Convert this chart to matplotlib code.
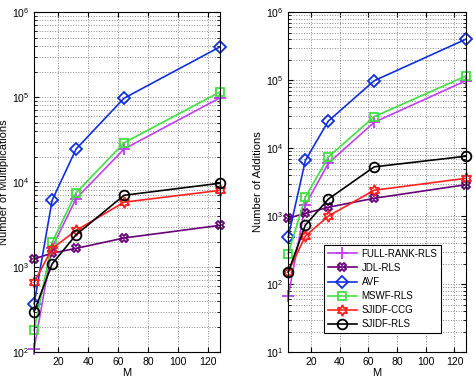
import numpy as np
import matplotlib
matplotlib.use('Agg')
import matplotlib.pyplot as plt
from matplotlib.ticker import LogLocator, NullFormatter

plt.rcParams['font.family'] = ['Liberation Sans', 'DejaVu Sans']
plt.rcParams['mathtext.fontset'] = 'custom'
plt.rcParams['mathtext.rm'] = 'Liberation Sans'

M = [4, 16, 32, 64, 128]

# Number of multiplications (left)
mult_full_rank = [110, 1700, 6400, 24500, 98000]
mult_jdl = [1250, 1460, 1660, 2200, 3100]
mult_avf = [370, 6100, 24500, 97000, 390000]
mult_mswf = [180, 1950, 7500, 29000, 115000]
mult_ccg = [660, 1650, 2700, 5800, 8000]
mult_rls = [300, 1090, 2400, 7000, 9700]

# Number of additions (right)
add_full_rank = [66, 1450, 6000, 24000, 98000]
add_jdl = [930, 1100, 1350, 1830, 2900]
add_avf = [490, 6600, 25000, 98000, 400000]
add_mswf = [280, 1900, 7400, 29000, 115000]
add_ccg = [150, 510, 1000, 2400, 3600]
add_rls = [150, 740, 1780, 5300, 7600]

labels = ['FULL-RANK-RLS', 'JDL-RLS', 'AVF', 'MSWF-RLS', 'SJIDF-CCG', 'SJIDF-RLS']
colors = ['#c040f0', '#660077', '#1030e0', '#40e040', '#ff2020', '#000000']
markers = ['+', 'X', 'D', 's', (6, 1, 0), 'o']
msizes = [8, 6, 6, 6, 8, 7]

fig = plt.figure(figsize=(4.74, 3.79), dpi=100)
ax1 = fig.add_axes([0.072, 0.071, 0.392, 0.897])
ax2 = fig.add_axes([0.608, 0.071, 0.375, 0.897])


def draw(ax, series, ylim, ylabel):
    for ys, lab, c, mk, ms in zip(series, labels, colors, markers, msizes):
        ax.semilogy(M, ys, color=c, marker=mk, markersize=ms, markerfacecolor='none',
                    markeredgecolor=c, markeredgewidth=1.3, linewidth=1.2, label=lab,
                    clip_on=False, zorder=3)
    ax.set_xlim(4, 128)
    ax.set_ylim(*ylim)
    ax.set_xticks([20, 40, 60, 80, 100, 120])
    ax.yaxis.set_major_locator(LogLocator(base=10, numticks=10))
    ax.yaxis.set_minor_locator(LogLocator(base=10, subs=np.arange(2, 10), numticks=20))
    ax.yaxis.set_minor_formatter(NullFormatter())
    ax.grid(True, which='major', linestyle=':', color='#888888', linewidth=0.7)
    ax.grid(True, which='minor', axis='y', linestyle=':', color='#888888', linewidth=0.7)
    ax.tick_params(which='both', direction='in', top=True, right=True, labelsize=7.5)
    ax.tick_params(which='minor', length=2)
    ax.set_xlabel('M', fontsize=8, labelpad=1)
    ax.set_ylabel(ylabel, fontsize=8, labelpad=2)
    for s in ax.spines.values():
        s.set_linewidth(0.8)
        s.set_zorder(4)


draw(ax1, [mult_full_rank, mult_jdl, mult_avf, mult_mswf, mult_ccg, mult_rls],
     (1e2, 1e6), 'Number of Multiplications')
draw(ax2, [add_full_rank, add_jdl, add_avf, add_mswf, add_ccg, add_rls],
     (1e1, 1e6), 'Number of Additions')

leg = ax2.legend(loc='lower left', bbox_to_anchor=(0.2, 0.056), fontsize=7,
                 fancybox=False, framealpha=1, edgecolor='black', borderpad=0.4,
                 labelspacing=0.42, handlelength=3.0, handletextpad=0.5,
                 borderaxespad=0)
leg.get_frame().set_linewidth(0.8)
leg.set_zorder(5)

fig.savefig('out.png', dpi=100)
